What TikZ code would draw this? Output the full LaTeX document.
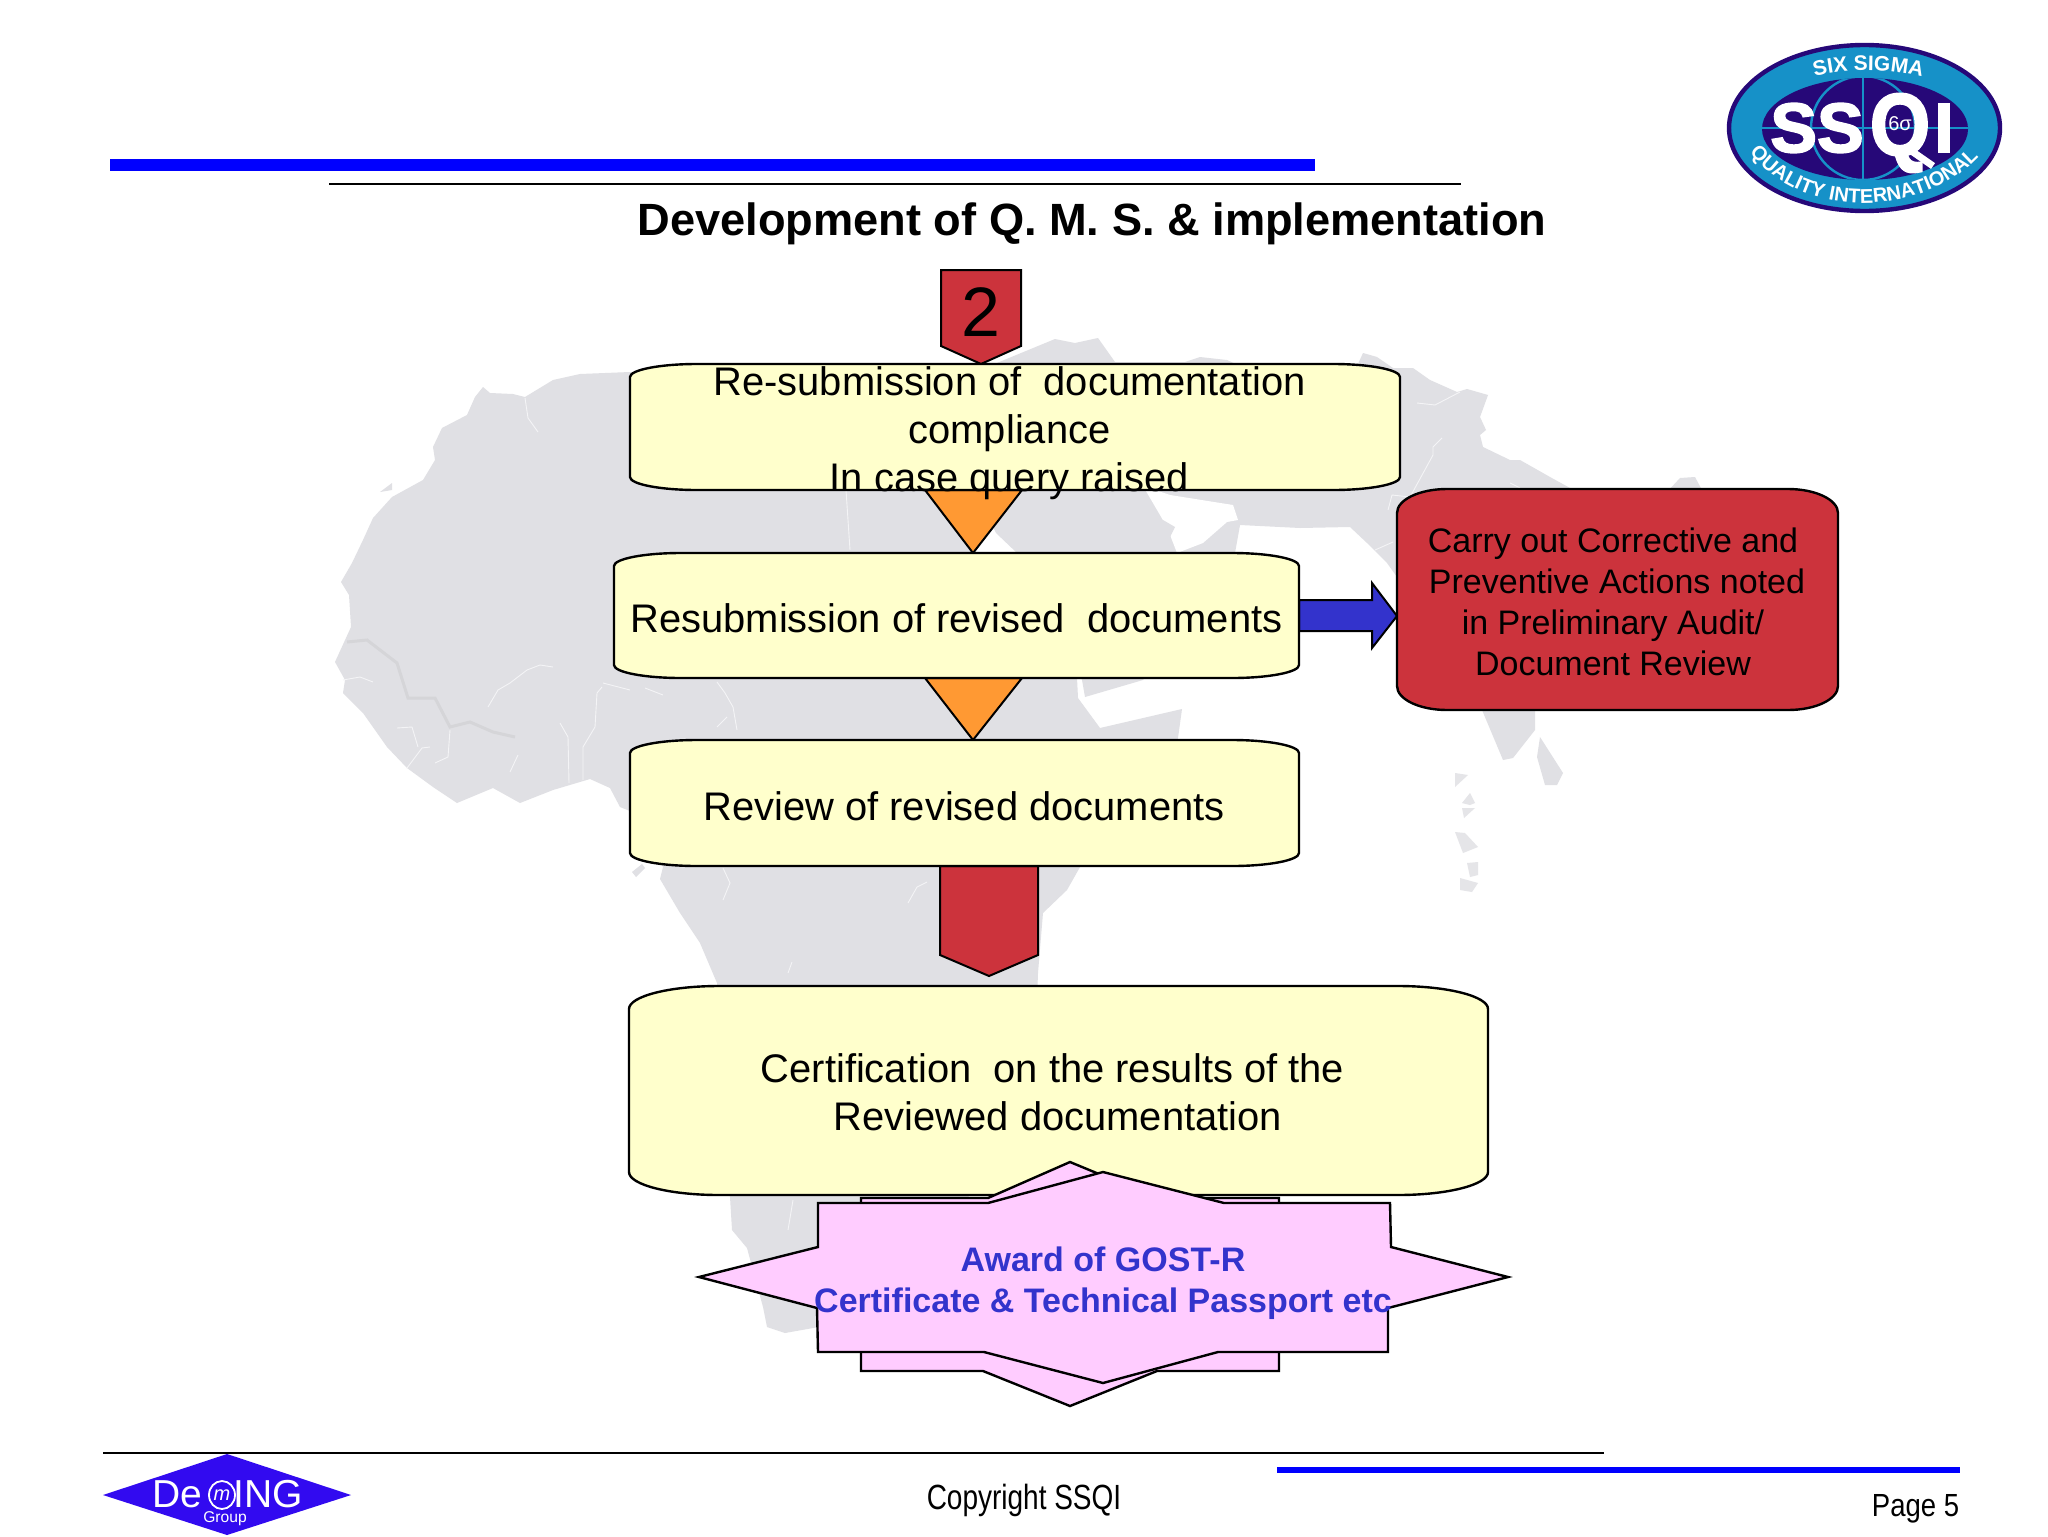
\documentclass[tikz,border=0pt]{standalone}
\usepackage{fontspec}
\setmainfont{Liberation Sans}
\newfontfamily\logoheavy[UprightFont=* Bold,FakeBold=2.5]{Liberation Sans}
\usetikzlibrary{calc,backgrounds,decorations.text}
\definecolor{boxyellow}{RGB}{255,255,204}
\definecolor{boxred}{RGB}{204,51,60}
\definecolor{tipblue}{RGB}{51,51,204}
\definecolor{tiporange}{RGB}{255,153,51}
\definecolor{starpink}{RGB}{255,204,255}
\definecolor{landgrey}{RGB}{224,224,228}
\definecolor{logonavy}{RGB}{38,8,120}
\definecolor{logocyan}{RGB}{22,145,200}
\definecolor{demingblue}{RGB}{50,10,240}
\tikzset{
  softshell/.style={inner sep=0pt, outer sep=0pt},
  softedge/.style={draw=black, line width=1.2pt},
  boxtext/.style={inner sep=0pt, align=center, font=\fontsize{19.95}{24}\selectfont},
  notetext/.style={inner sep=0pt, align=center, font=\fontsize{17}{20.4}\selectfont},
  blocktip/.style={draw=black, line width=1pt, line join=miter},
  starfill/.style={draw=black, line width=1.2pt, fill=starpink},
  landpart/.style={fill=landgrey, draw=none},
  riverline/.style={draw=white!65!landgrey, line width=0.45pt},
  logotext/.style={inner sep=0pt, text=white, font=\logoheavy\fontsize{35}{35}\selectfont}
}
% box with flat elliptical corners: name, centre x, centre y, width, height, rx, ry
\newcommand{\softbox}[8][]{
  \node[softshell, minimum width=#5*0.5pt, minimum height=#6*0.5pt] (#2) at (#3,#4) {};
  \draw[softedge,#1] ($(#2.north west)+(0,#8)$)
    arc[start angle=180,end angle=270,x radius=#7,y radius=#8]
    -- ($(#2.north east)+(-#7,0)$)
    arc[start angle=270,end angle=360,x radius=#7,y radius=#8]
    -- ($(#2.south east)+(0,-#8)$)
    arc[start angle=0,end angle=90,x radius=#7,y radius=#8]
    -- ($(#2.south west)+(#7,0)$)
    arc[start angle=90,end angle=180,x radius=#7,y radius=#8] -- cycle;
}
\begin{document}
\begin{tikzpicture}[x=0.5pt,y=-0.5pt]
  \useasboundingbox (0,0) rectangle (2048,1536);

  % header rules and title
  \fill[blue] (110,159) rectangle (1315,171);
  \draw[line width=1pt] (329,184) -- (1461,184);
  \node[inner sep=0pt, font=\bfseries\fontsize{22.6}{27}\selectfont] (title) at (1092,224) {Development of Q. M. S. \& implementation};

  % flow boxes
  \softbox[fill=boxyellow]{boxa}{1015}{427}{770}{126}{67}{13}
  \softbox[fill=boxyellow]{boxb}{956.5}{615.5}{685}{125}{67}{13}
  \softbox[fill=boxyellow]{boxc}{964.5}{803}{669}{126}{67}{13}
  \softbox[fill=boxyellow]{boxd}{1058.5}{1090.5}{859}{209}{90}{23}
  \softbox[fill=boxred]{boxe}{1617.5}{599.5}{441}{221}{50}{24}

  % map and block arrows stay behind the boxes
  \begin{scope}[on background layer]
    \fill[white] (0,0) rectangle (2048,1536);
    \fill[landpart] (630,372) -- (580,374) -- (553,380) -- (525,397) -- (513,394) -- (490,393) -- (483,387) -- (475,397)
      -- (467,415) -- (442,428) -- (433,447) -- (435,460) -- (423,480) -- (392,497) -- (373,518) -- (363,540) -- (352,563)
      -- (341,582) -- (349,595) -- (351,627) -- (335,662) -- (345,680) -- (343,693) -- (363,713) -- (387,747) -- (407,768)
      -- (433,787) -- (457,803) -- (493,788) -- (520,803) -- (553,790) -- (590,779) -- (610,788) -- (620,807) -- (640,815)
      -- (663,867) -- (660,879) -- (680,913) -- (700,943) -- (717,983) -- (730,1197) -- (732,1230) -- (747,1248)
      -- (763,1307) -- (767,1327) -- (785,1333) -- (830,1325) -- (950,1250) -- (1037,1000) -- (1038,973) -- (1043,913)
      -- (1067,890) -- (1080,867) -- (1120,840) -- (1177,745) -- (1182,709) -- (1100,728) -- (1078,698) -- (1077,678)
      -- (972,552) -- (960,480) -- (960,372) -- cycle;
    \fill[landpart] (1055,339) -- (1075,343) -- (1098,338) -- (1115,362) -- (1185,362) -- (1200,357) -- (1227,360)
      -- (1240,366) -- (1357,366) -- (1363,353) -- (1377,357) -- (1393,368) -- (1413,368) -- (1430,380) -- (1457,392)
      -- (1467,389) -- (1488,395) -- (1480,417) -- (1486,430) -- (1480,435) -- (1483,447) -- (1510,460) -- (1520,460)
      -- (1550,477) -- (1570,488) -- (1600,520) -- (1535,700) -- (1535,730) -- (1513,758) -- (1503,760) -- (1482,710)
      -- (1397,577) -- (1387,563) -- (1367,543) -- (1350,527) -- (1300,528) -- (1240,525) -- (1235,553) -- (1143,680)
      -- (1085,697) -- (1082,680) -- (1017,553) -- (996,533) -- (975,490) -- (975,372) -- cycle;
    \fill[landpart] (1667,492) -- (1680,478) -- (1695,477) -- (1703,492) -- cycle;
    \fill[white] (1143,486) -- (1170,495) -- (1233,505) -- (1238,520) -- (1227,522) -- (1203,543) -- (1177,553) -- (1167,527) -- cycle;
    \fill[landpart] (1163,520) -- (1175,527) -- (1170,537) -- (1165,533) -- cycle;
    \fill[landpart] (1540,737) -- (1563,773) -- (1557,785) -- (1545,785) -- (1537,757) -- cycle;
    \fill[landpart] (380,492) -- (392,483) -- (392,490) -- cycle;
    \fill[landpart] (632,872) -- (642,864) -- (645,868) -- (636,877) -- cycle;
    % islands
    \foreach \isle in {
      {(1455,773) -- (1468,775) -- (1455,787)},
      {(1462,803) -- (1470,793) -- (1475,803) -- (1470,805)},
      {(1462,808) -- (1475,808) -- (1464,818)},
      {(1455,832) -- (1465,833) -- (1478,847) -- (1463,853)},
      {(1467,863) -- (1478,862) -- (1478,875) -- (1470,877)},
      {(1460,878) -- (1478,883) -- (1472,892) -- (1460,890)}}
      \fill[landgrey!85!white] \isle -- cycle;
    % rivers and borders
    \draw[landgrey!95!black, line width=1.5pt] (347,642) -- (367,640) -- (397,663) -- (408,698) -- (435,698) -- (450,727) -- (470,722) -- (493,732) -- (515,737);
    \foreach \river in {
      {(525,398) -- (528,418) -- (538,432)},
      {(373,682) -- (360,677) -- (343,680)},
      {(407,768) -- (422,748) -- (430,747)},
      {(397,728) -- (412,727) -- (418,747)},
      {(435,763) -- (448,757) -- (450,730)},
      {(510,772) -- (518,755)},
      {(560,723) -- (568,737) -- (569,783)},
      {(488,707) -- (498,690) -- (510,683) -- (527,670) -- (540,665) -- (553,667)},
      {(583,780) -- (583,747) -- (595,727) -- (597,693) -- (602,687)},
      {(603,683) -- (630,690)},
      {(645,688) -- (663,695)},
      {(717,682) -- (725,693) -- (733,707) -- (737,730)},
      {(717,727) -- (727,717)},
      {(723,868) -- (730,883) -- (723,900)},
      {(908,903) -- (917,887) -- (927,882)},
      {(788,973) -- (792,962)},
      {(793,1200) -- (788,1230)},
      {(846,490) -- (850,550)},
      {(1417,403) -- (1435,405) -- (1460,392)},
      {(1442,438) -- (1433,447) -- (1433,455) -- (1410,497) -- (1392,495) -- (1388,510)},
      {(1510,483) -- (1520,488)},
      {(1375,550) -- (1393,542)}}
      \draw[riverline] \river;
    % block arrows
    \draw[blocktip, fill=tiporange] (925,0 |- boxa.south) -- (1022,0 |- boxa.south) -- (973,0 |- boxb.north) -- cycle;
    \draw[blocktip, fill=tiporange] (925,0 |- boxb.south) -- (1022,0 |- boxb.south) -- (973,0 |- boxc.north) -- cycle;
    \draw[blocktip, fill=boxred] (940,0 |- boxc.south) -- (1038,0 |- boxc.south) -- (1038,955) -- (989,976) -- (940,955) -- cycle;
    \draw[blocktip, fill=tipblue] (boxb.east |- 0,600) -- (1372,600) -- (1372,583) -- (boxe.west |- 0,616) -- (1372,648) -- (1372,631) -- (boxb.east |- 0,631) -- cycle;
    \draw[blocktip, fill=boxred] (941,270) -- (1021,270) -- (1021,346) -- (981,0 |- boxa.north) -- (941,346) -- cycle;
  \end{scope}

  % box texts
  \node[inner sep=0pt, font=\fontsize{35}{35}\selectfont] (numtwo) at (981,312) {2};
  \node[boxtext] (texta) at (1009.5,433.5) {Re-submission of~~documentation\\compliance\\In case query raised};
  \node[boxtext] (textb) at (956.5,618) {Resubmission of revised~~documents};
  \node[boxtext] (textc) at (964,806) {Review of revised documents};
  \node[boxtext] (textd) at (1058,1092.5) {Certification~~on the results of the\hspace*{0.28em}\\Reviewed documentation};
  \node[notetext] (texte) at (1613,602) {Carry out Corrective and\\\hspace*{4pt}Preventive Actions noted\\in Preliminary Audit/\\Document Review};

  % award star
  \draw[starfill] (861,1198) -- (988,1198) -- (1070,1162) -- (1157,1198) -- (1279,1198) -- (1279,1371) -- (1157,1371) -- (1070,1406) -- (983,1371) -- (861,1371) -- cycle;
  \draw[starfill] (818,1203) -- (988,1203) -- (1103,1172) -- (1224,1203) -- (1390,1203) -- (1391,1247) -- (1508,1277) -- (1388,1308) -- (1388,1352) -- (1218,1352) -- (1103,1383) -- (984,1352) -- (818,1352) -- (817,1308) -- (699,1277) -- (818,1247) -- cycle;
  \node[inner sep=0pt, align=center, text=tipblue, font=\bfseries\fontsize{17}{20.5}\selectfont] (award) at (1103,1283) {Award of GOST-R\\Certificate \& Technical Passport etc};

  % footer
  \draw[line width=1pt] (103,1453) -- (1604,1453);
  \fill[blue] (1277,1467) rectangle (1960,1473);
  \node[inner sep=0pt, font=\fontsize{17.5}{20}\selectfont] (copyright) at (1024,1500) {\scalebox{0.8}[1]{Copyright SSQI}};
  \node[inner sep=0pt, font=\fontsize{16}{20}\selectfont] (pageno) at (1915.5,1509) {\scalebox{0.86}[1]{Page 5}};

  % deming logo
  \fill[demingblue] (103,1495) -- (227,1454) -- (351,1495) -- (227,1535) -- cycle;
  \node[inner sep=0pt, text=white, font=\fontsize{19.5}{20}\selectfont] (logode) at (177,1494) {De};
  \draw[white, line width=0.9pt] (222,1495) ellipse [x radius=13, y radius=14];
  \node[inner sep=0pt, text=white, font=\itshape\fontsize{10}{10}\selectfont] (logom) at (222,1495) {m};
  \node[inner sep=0pt, text=white, font=\fontsize{19.5}{20}\selectfont] (logoing) at (268,1494) {ING};
  \node[inner sep=0pt, text=white, font=\fontsize{7.8}{9}\selectfont] (logogroup) at (225,1519) {Group};

  % ssqi logo
  \draw[draw=logonavy, fill=logocyan, line width=2.2pt] (1864.5,128) ellipse [x radius=135.5, y radius=83];
  \begin{scope}
    \clip (1865,129) ellipse [x radius=103, y radius=51];
    \fill[logonavy] (1700,20) rectangle (2040,230);
    \draw[logocyan, line width=1.2pt] (1863,60) -- (1863,200) (1750,128) -- (1980,128);
    \draw[logocyan, line width=1.2pt] (1863,128) ellipse [x radius=52, y radius=52];
  \end{scope}
  \node[logotext] (logoss) at (1817,128) {SS};
  \node[logotext, font=\logoheavy\fontsize{44}{44}\selectfont] (logoq) at (1900,133) {\scalebox{0.88}[1]{Q}};
  \draw[white, line width=3.5pt] (1910,150) -- (1933,166);
  \node[logotext] (logoi) at (1944,128) {I};
  \node[inner sep=0pt, text=white, font=\fontsize{10}{10}\selectfont] (logosigma) at (1900,124) {6σ};
  \path[decorate, decoration={text along path, text align=center, text color=white,
    text={|\bfseries\fontsize{10.5}{11}\selectfont|SIX SIGMA}}] (1805,80) .. controls (1835,67) and (1895,67) .. (1932,80);
  \path[decorate, decoration={text along path, text align=center, text color=white,
    text={|\bfseries\fontsize{10}{11}\selectfont|QUALITY INTERNATIONAL}}] (1738,135) .. controls (1785,225) and (1935,225) .. (1992,140);
\end{tikzpicture}
\end{document}
